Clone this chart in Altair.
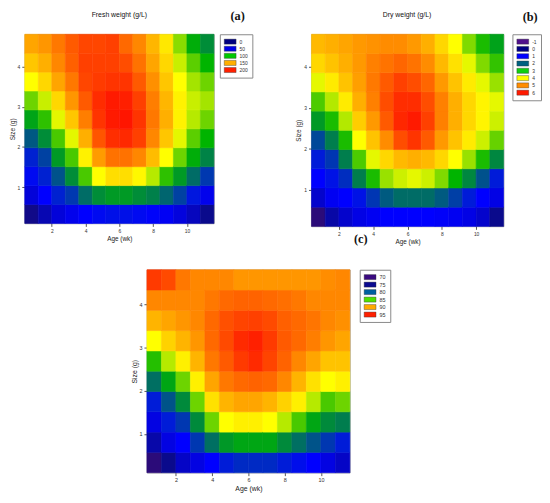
import altair as alt
import pandas as pd

# grid of cell centres (Age, Size) at which the surfaces were read
x_centers = [0.8, 1.6, 2.4, 3.2, 4.0, 4.8, 5.6, 6.4, 7.2, 8.0, 8.8, 9.6, 10.4, 11.2]
y_centers = [0.335, 0.805, 1.275, 1.745, 2.215, 2.685, 3.155, 3.625, 4.095, 4.565]
half_w = 0.4
half_h = 0.235

# Fresh weight (g/L): one list per Age column, Size from bottom to top
fresh = [
    [12, 35, 48, 55, 72, 95, 112, 128, 145, 155],
    [25, 45, 55, 65, 88, 105, 122, 140, 152, 160],
    [35, 55, 70, 92, 108, 125, 140, 155, 165, 170],
    [40, 62, 88, 108, 125, 145, 160, 170, 178, 180],
    [45, 78, 108, 132, 152, 168, 180, 188, 190, 188],
    [48, 88, 128, 158, 182, 195, 198, 192, 190, 188],
    [50, 92, 138, 172, 197, 205, 205, 195, 190, 190],
    [50, 92, 138, 172, 199, 207, 203, 195, 185, 175],
    [48, 88, 130, 165, 190, 195, 190, 180, 172, 165],
    [46, 84, 120, 148, 165, 170, 168, 162, 155, 150],
    [42, 76, 105, 128, 145, 152, 150, 145, 140, 135],
    [36, 65, 92, 112, 125, 132, 132, 128, 122, 115],
    [28, 52, 78, 98, 110, 120, 122, 118, 110, 98],
    [15, 40, 62, 85, 100, 112, 118, 112, 100, 88],
]

# Dry weight (g/L)
dry = [
    [-0.3, 0.6, 1.0, 1.3, 1.8, 2.7, 3.3, 3.9, 4.4, 4.7],
    [0.3, 0.9, 1.2, 1.6, 2.4, 3.1, 3.7, 4.2, 4.6, 4.8],
    [0.6, 1.0, 1.5, 2.4, 3.1, 3.7, 4.2, 4.6, 4.8, 4.9],
    [0.8, 1.2, 2.4, 3.3, 4.0, 4.5, 4.8, 4.95, 5.0, 5.0],
    [0.9, 1.6, 3.1, 3.9, 4.6, 5.0, 5.2, 5.25, 5.2, 5.05],
    [1.0, 2.0, 3.6, 4.4, 5.1, 5.5, 5.6, 5.5, 5.3, 5.1],
    [1.0, 2.2, 3.8, 4.7, 5.6, 5.9, 5.85, 5.7, 5.4, 5.1],
    [1.0, 2.2, 3.9, 4.8, 5.8, 6.0, 5.85, 5.6, 5.3, 5.0],
    [1.0, 2.2, 3.8, 4.7, 5.5, 5.7, 5.6, 5.4, 5.1, 4.8],
    [0.95, 2.0, 3.5, 4.4, 5.0, 5.2, 5.2, 5.0, 4.7, 4.4],
    [0.9, 1.7, 3.0, 4.0, 4.6, 4.8, 4.8, 4.6, 4.3, 4.0],
    [0.8, 1.3, 2.5, 3.6, 4.2, 4.4, 4.4, 4.2, 3.9, 3.5],
    [0.6, 1.0, 1.9, 3.1, 3.8, 4.1, 4.1, 3.9, 3.5, 3.1],
    [0.1, 0.8, 1.3, 2.5, 3.4, 3.8, 3.9, 3.6, 3.2, 2.8],
]

# Water content (%)
water = [
    [72, 75, 77, 79, 82, 85, 88, 90.5, 92, 94.5],
    [74, 77, 79, 81, 84, 87, 89.5, 91, 92, 94],
    [76, 78, 80, 83, 86, 88.5, 90.5, 91.5, 92, 92.5],
    [77, 80, 83, 86, 88.5, 90.5, 91.5, 92, 92, 92],
    [78, 82, 86, 89, 91, 92.5, 93, 93, 92.5, 92],
    [79, 83.5, 88, 90.5, 92.5, 93.5, 94, 93.8, 93, 92],
    [79.5, 84, 88.5, 91, 93, 94.5, 95, 94.2, 93.2, 91.5],
    [79.5, 84, 88.5, 91, 93.2, 95, 95.3, 94.3, 93.2, 91.5],
    [79.5, 84, 88, 90.5, 93, 94.2, 94.5, 94, 93, 91.5],
    [79, 83, 87, 89.5, 92, 93.2, 93.5, 93.3, 92.8, 91.5],
    [78.5, 82, 85.5, 88.5, 90.5, 92, 93, 93, 92.5, 91.5],
    [78, 81, 84, 87, 89, 91, 92.3, 92.6, 92, 91.5],
    [77, 80, 83, 85.5, 88, 90, 91.5, 92, 92, 91.8],
    [76, 79, 82.5, 86, 88.5, 90, 91, 91.7, 92, 92],
]

x_ticks = [2, 4, 6, 8, 10]
y_ticks = [1, 2, 3, 4]

legend_a = ["0", "50", "100", "150", "200"]
legend_a_colors = ["#000080", "#0000e6", "#00c800", "#ffb000", "#ff2000"]
legend_b = ["-1", "0", "1", "2", "3", "4", "5", "6"]
legend_b_colors = ["#50108c", "#000080", "#0000ff", "#006080", "#10d010", "#ffff00", "#ff8c00", "#ff1a00"]
legend_c = ["70", "75", "80", "85", "90", "95"]
legend_c_colors = ["#3a0a80", "#0a0a90", "#0060a0", "#50e000", "#ffaa00", "#ff2000"]

ramp = ["#3b0b70", "#0a0a8c", "#0000ff", "#00b400", "#ffff00", "#ffa500", "#ff5a00", "#ff1a00"]
stops_a = [-5, 15, 45, 100, 128, 155, 180, 205]
stops_b = [-0.5, 0.1, 1.0, 3.0, 4.0, 4.9, 5.5, 6.0]
stops_c = [71, 74, 78, 84.5, 88, 91, 93.5, 95.5]

FONT = "Liberation Sans"
SERIF = "Liberation Serif"
SYMBOL = "M-1,-0.85H3V0.85H-1Z"


def grid_df(cols):
    rows = []
    for i, x in enumerate(x_centers):
        for j, y in enumerate(y_centers):
            rows.append({"x0": x - half_w, "x1": x + half_w,
                         "y0": y - half_h, "y1": y + half_h, "v": cols[i][j]})
    return pd.DataFrame(rows)


def text_layer(txt, x, y, size, font, weight="normal"):
    return alt.Chart(pd.DataFrame({"t": [txt]})).mark_text(
        font=font, fontSize=size, fontWeight=weight, color="#111",
        align="center", baseline="alphabetic"
    ).encode(text="t:N", x=alt.value(x), y=alt.value(y))


def panel(cols, stops, leg_labels, leg_colors, size, tick_fs, title_fs,
          leg_offset, leg_rowpad, leg_fs, texts):
    xs = alt.Scale(domain=[0.4, 11.6], nice=False, zero=False)
    ys = alt.Scale(domain=[0.1, 4.8], nice=False, zero=False)
    cs = alt.Scale(domain=stops, range=ramp, interpolate="rgb")
    axis_common = dict(domain=False, grid=False, tickSize=3, tickColor="#555",
                       labelFont=FONT, labelFontSize=tick_fs, labelColor="#333",
                       labelPadding=2, titleFont=FONT, titleFontSize=title_fs,
                       titleFontWeight="normal", titleColor="#222", titlePadding=2)
    heat = alt.Chart(grid_df(cols)).mark_rect(strokeWidth=0.6).encode(
        x=alt.X("x0:Q", scale=xs, axis=alt.Axis(values=x_ticks, title="Age (wk)", **axis_common)),
        x2="x1:Q",
        y=alt.Y("y0:Q", scale=ys, axis=alt.Axis(values=y_ticks, title="Size (g)", **axis_common)),
        y2="y1:Q",
        color=alt.Color("v:Q", scale=cs, legend=None),
        stroke=alt.Stroke("v:Q", scale=cs, legend=None),
    )
    leg = alt.Chart(pd.DataFrame({"lab": leg_labels})).mark_square(opacity=0).encode(
        x=alt.value(0), y=alt.value(0),
        color=alt.Color("lab:N", sort=leg_labels,
                        scale=alt.Scale(domain=leg_labels, range=leg_colors),
                        legend=alt.Legend(title=None, orient="right", offset=leg_offset,
                                          padding=4, strokeColor="#888", fillColor="white",
                                          labelFont=FONT, labelFontSize=leg_fs, labelColor="#333",
                                          labelOffset=9, symbolType=SYMBOL, symbolSize=36,
                                          symbolOpacity=1, symbolStrokeColor="#333",
                                          symbolStrokeWidth=0.4, rowPadding=leg_rowpad)),
    )
    layers = [heat, leg] + texts
    return alt.layer(*layers).resolve_scale(color="independent", stroke="independent").properties(
        width=size, height=size)


pa = panel(fresh, stops_a, legend_a, legend_a_colors, 192, 5, 6.5, 6, 0.2, 5,
           [text_layer("Fresh weight (g/L)", 96, -18, 7, FONT),
            text_layer("(a)", 216, -14, 12.5, SERIF, "bold")])
pb = panel(dry, stops_b, legend_b, legend_b_colors, 195, 5, 6.5, 9, 0.4, 5,
           [text_layer("Dry weight (g/L)", 97, -18, 7, FONT),
            text_layer("(b)", 222, -13, 12.5, SERIF, "bold"),
            text_layer("(c)", 50, 212, 12.5, SERIF, "bold")])
pc = panel(water, stops_c, legend_c, legend_c_colors, 206, 5.5, 7, 10, 0.6, 5.5, [])

spacer = alt.Chart(pd.DataFrame({"a": [0]})).mark_point(opacity=0).encode(
    x=alt.value(0), y=alt.value(0)
).properties(width=105, height=10, view=alt.ViewBackground(stroke="transparent"))

ind = dict(color="independent", stroke="independent")
top = alt.hconcat(pa, pb, spacing=42).resolve_scale(**ind).resolve_legend(color="independent")
bottom = alt.hconcat(spacer, pc, spacing=0).resolve_scale(**ind).resolve_legend(color="independent")
chart = alt.vconcat(top, bottom, spacing=20).resolve_scale(**ind).resolve_legend(
    color="independent"
).properties(
    padding={"left": 0, "top": -2, "right": 0, "bottom": 0}, background="white"
).configure_view(stroke="#888", strokeWidth=0.8)

chart.save("out.html", embed_options={"renderer": "svg", "actions": False})
